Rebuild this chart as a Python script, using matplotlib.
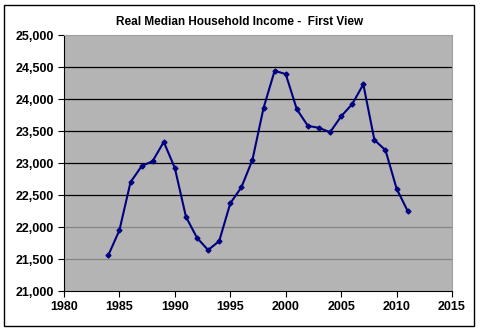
import matplotlib.pyplot as plt
from matplotlib.patches import Rectangle
from matplotlib.ticker import FuncFormatter

plt.rcParams['font.family'] = ['Liberation Sans', 'DejaVu Sans']

years = list(range(1984, 2012))
income = [21560, 21950, 22700, 22950, 23030, 23330, 22920, 22160, 21830, 21640,
          21780, 22370, 22620, 23050, 23860, 24440, 24390, 23840, 23580, 23550,
          23480, 23730, 23920, 24230, 23360, 23200, 22600, 22250]

fig = plt.figure(figsize=(4.8, 3.31), dpi=100)
ax = fig.add_axes([64/480, 1-291/331, 388/480, 256/331])

ax.set_facecolor('#B4B4B4')
ax.plot(years, income, color='#000080', lw=1.5, marker='D', ms=2.5, zorder=3)

ax.set_xlim(1980, 2015)
ax.set_ylim(21000, 25000)
ax.set_xticks(range(1980, 2016, 5))
ax.set_yticks(range(21000, 25001, 500))
ax.yaxis.set_major_formatter(FuncFormatter(lambda v, p: '{:,.0f}'.format(v)))

# horizontal gridlines (the two lowest look grey in the original)
for v in range(21500, 25000, 500):
    c = '#858585' if v <= 22000 else 'black'
    ax.axhline(v, color=c, lw=0.9, zorder=1)

for s in ['top', 'right']:
    ax.spines[s].set_color('#A0A0A0')
for s in ['left', 'bottom']:
    ax.spines[s].set_color('black')
ax.tick_params(direction='out', length=4, width=0.8, labelsize=9, pad=3)
for lab in ax.get_xticklabels() + ax.get_yticklabels():
    lab.set_fontweight('bold')

fig.text(0.5, 1 - 22/331, 'Real Median Household Income -  First View',
         ha='center', va='center', fontsize=8.5, fontweight='bold')

fig.patches.append(Rectangle((4/480, 5/331), 470/480, 321/331, transform=fig.transFigure,
                             fill=False, edgecolor='black', lw=1))

fig.savefig('out.png', dpi=100)
